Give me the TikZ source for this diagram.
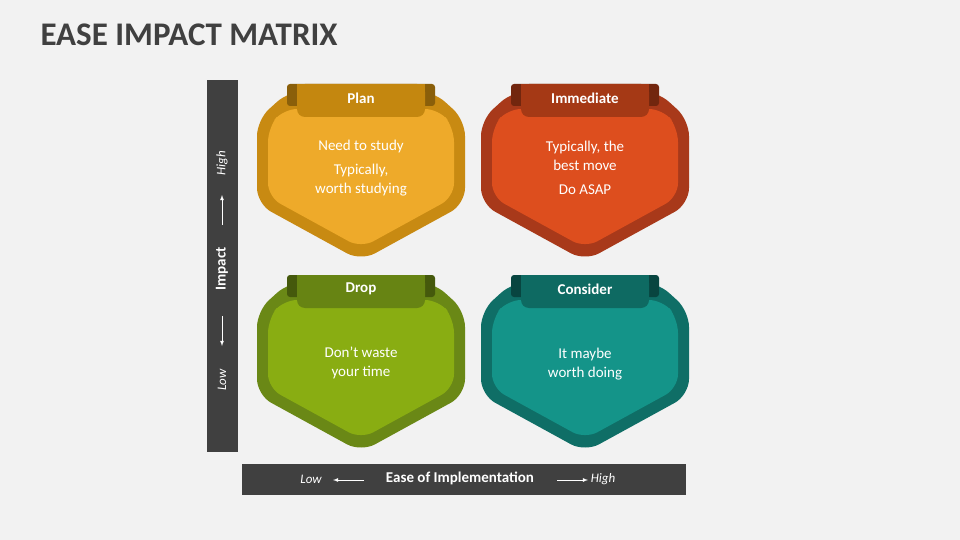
\documentclass[tikz,border=0pt]{standalone}
\usepackage{fontspec}
\setmainfont{Carlito}
\definecolor{pO}{HTML}{C88A12}\definecolor{pI}{HTML}{EEAA2A}\definecolor{pT}{HTML}{C4870F}\definecolor{pE}{HTML}{8A5F0A}
\definecolor{iO}{HTML}{A8391A}\definecolor{iI}{HTML}{DD4E1E}\definecolor{iT}{HTML}{A53915}\definecolor{iE}{HTML}{72260E}
\definecolor{dO}{HTML}{6A8816}\definecolor{dI}{HTML}{89AD12}\definecolor{dT}{HTML}{678413}\definecolor{dE}{HTML}{45590C}
\definecolor{cO}{HTML}{0F6E66}\definecolor{cI}{HTML}{149489}\definecolor{cT}{HTML}{0E6A62}\definecolor{cE}{HTML}{084540}
\begin{document}
\begin{tikzpicture}[x=1pt,y=-1pt,
  txt/.style={text=white,font=\fontsize{15}{19}\selectfont,align=center},
  ttl/.style={text=white,font=\bfseries\fontsize{15}{18}\selectfont},
  ax/.style={text=white,font=\itshape\fontsize{13}{15}\selectfont},
  arr/.style={white,-latex,line width=0.8pt}]
\fill[gray!10!white] (0,0) rectangle (960,540);
\useasboundingbox (0,0) rectangle (960,540);
\node[anchor=west,font=\bfseries\fontsize{33}{38}\selectfont,text=black!75] (title) at (37,35) {EASE IMPACT MATRIX};
\newcommand{\card}[9]{%
 \begin{scope}[shift={(#1,#2)}]
  \fill[#3,rounded corners=16] (0,36) -- (32,7) -- (176,7) -- (208,36) -- (208,120) -- (104,177) -- (0,120) -- cycle;
  \fill[#4,rounded corners=14] (11,44) -- (26,25) -- (182,25) -- (197,44) -- (197,113) -- (104,164) -- (11,113) -- cycle;
  \fill[#6,rounded corners=3] (30,0) rectangle (178,22);
  \fill[#5,rounded corners=8] (40,0) -- (40,33) -- (168,33) -- (168,0) -- cycle;
  \fill[#5] (40,0) rectangle (168,10);
  \node[ttl] (#7) at (104,14) {#8};
  \node[txt] (#7b) at (104,#9) {\bodytext};
 \end{scope}}
\newcommand{\bodytext}{Need to study\\[5pt]Typically,\\worth studying}
\card{257}{84}{pO}{pI}{pT}{pE}{plan}{Plan}{84}
\renewcommand{\bodytext}{Typically, the\\best move\\[5pt]Do ASAP}
\card{481}{84}{iO}{iI}{iT}{iE}{imm}{Immediate}{84}
\renewcommand{\bodytext}{Don't waste\\your time}
\card{257}{275}{dO}{dI}{dT}{dE}{drop}{Drop}{88}
\renewcommand{\bodytext}{It maybe\\worth doing}
\card{481}{275}{cO}{cI}{cT}{cE}{cons}{Consider}{89}
% axes
\fill[black!75] (207,80) rectangle (238,452);
\fill[black!75] (242,464) rectangle (686,495);
\node[ax,rotate=90] (high) at (222,163) {High};
\node[ttl,rotate=90] (imp) at (222,269) {Impact};
\node[ax,rotate=90] (low) at (222,380) {Low};
\coordinate (u1) at (222,225); \coordinate (u2) at (222,195);
\coordinate (d1) at (222,316); \coordinate (d2) at (222,346);
\draw[arr] (u1) -- (u2); \draw[arr] (d1) -- (d2);
\node[ax] (hlow) at (311,479) {Low};
\node[ttl] (ease) at (460,478) {Ease of Implementation};
\node[ax] (hhigh) at (603,479) {High};
\coordinate (l1) at (364,480); \coordinate (l2) at (333,480);
\coordinate (r1) at (557,480); \coordinate (r2) at (588,480);
\draw[arr] (l1) -- (l2); \draw[arr] (r1) -- (r2);
\end{tikzpicture}
\end{document}
